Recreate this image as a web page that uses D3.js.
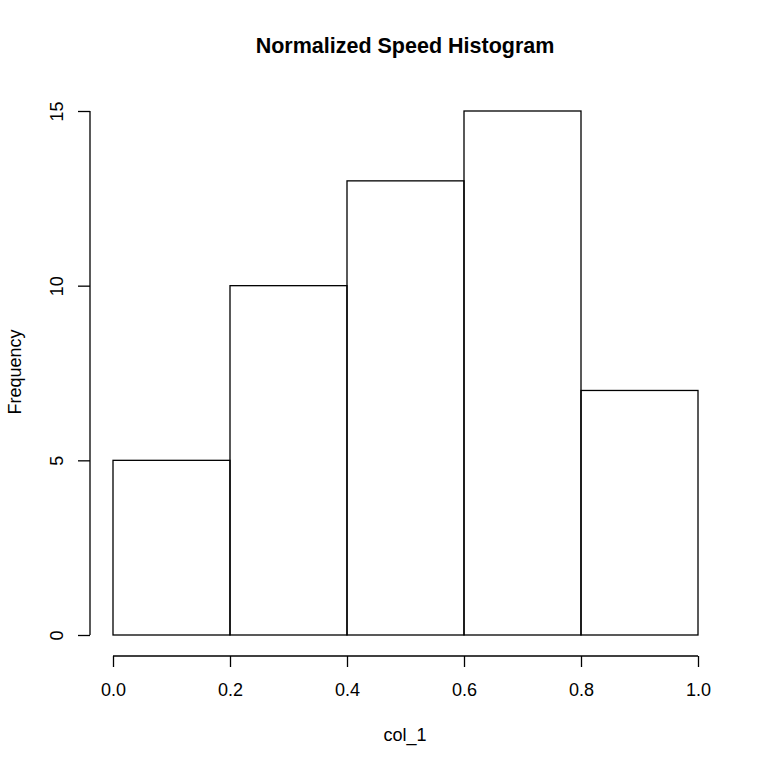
<!DOCTYPE html>
<html>
<head>
<meta charset="utf-8">
<script src="https://cdn.jsdelivr.net/npm/d3@7"></script>
<style>
body { margin: 0; background: #fff; }
text { font-family: "Liberation Sans", Arial, sans-serif; }
</style>
</head>
<body>
<svg id="chart" width="768" height="768"></svg>
<script>
// histogram bins and counts
var binEdges = [0.0, 0.2, 0.4, 0.6, 0.8, 1.0];
var counts = [5, 10, 13, 15, 7];
var xTicks = [0.0, 0.2, 0.4, 0.6, 0.8, 1.0];
var yTicks = [0, 5, 10, 15];

var svg = d3.select("#chart");
var x = d3.scaleLinear().domain([0, 1]).range([113, 698]);
var y = d3.scaleLinear().domain([0, 15]).range([635, 111]);

var bins = counts.map(function(c, i) { return { x0: binEdges[i], x1: binEdges[i + 1], n: c }; });

svg.append("g").selectAll("rect")
	.data(bins)
	.enter().append("rect")
	.attr("x", function(d) { return x(d.x0); })
	.attr("y", function(d) { return y(d.n); })
	.attr("width", function(d) { return x(d.x1) - x(d.x0); })
	.attr("height", function(d) { return y(0) - y(d.n); })
	.style("fill", "none")
	.style("stroke", "#000")
	.style("stroke-width", 1.3);

//x axis
var xAxis = svg.append("g")
	.attr("transform", "translate(0,656)")
	.call(d3.axisBottom(x).tickValues(xTicks).tickFormat(d3.format(".1f")).tickSize(11).tickPadding(16).tickSizeOuter(0));
xAxis.select(".domain").attr("d", "M" + x(0) + ",0H" + x(1)).style("stroke", "#000").style("stroke-width", 1.3);
xAxis.selectAll(".tick line").style("stroke", "#000").style("stroke-width", 1.3);
xAxis.selectAll(".tick text").style("font-size", "18px").style("fill", "#000");

//y axis
var yAxis = svg.append("g")
	.attr("transform", "translate(90,0)")
	.call(d3.axisLeft(y).tickValues(yTicks).tickSize(12).tickSizeOuter(0));
yAxis.select(".domain").attr("d", "M0," + y(0) + "V" + y(15)).style("stroke", "#000").style("stroke-width", 1.3);
yAxis.selectAll(".tick line").style("stroke", "#000").style("stroke-width", 1.3);
yAxis.selectAll(".tick text")
	.attr("x", null)
	.attr("text-anchor", "middle")
	.attr("transform", "translate(-33,0) rotate(-90)")
	.attr("dy", "0.35em")
	.style("font-size", "18px").style("fill", "#000");

//titles
svg.append("text")
	.attr("x", 405).attr("y", 53)
	.attr("text-anchor", "middle")
	.style("font-size", "21.5px").style("font-weight", "bold")
	.text("Normalized Speed Histogram");
svg.append("text")
	.attr("x", 405).attr("y", 741)
	.attr("text-anchor", "middle")
	.style("font-size", "18px")
	.text("col_1");
svg.append("text")
	.attr("transform", "translate(21,372) rotate(-90)")
	.attr("text-anchor", "middle")
	.style("font-size", "18px")
	.text("Frequency");
</script>
</body>
</html>
